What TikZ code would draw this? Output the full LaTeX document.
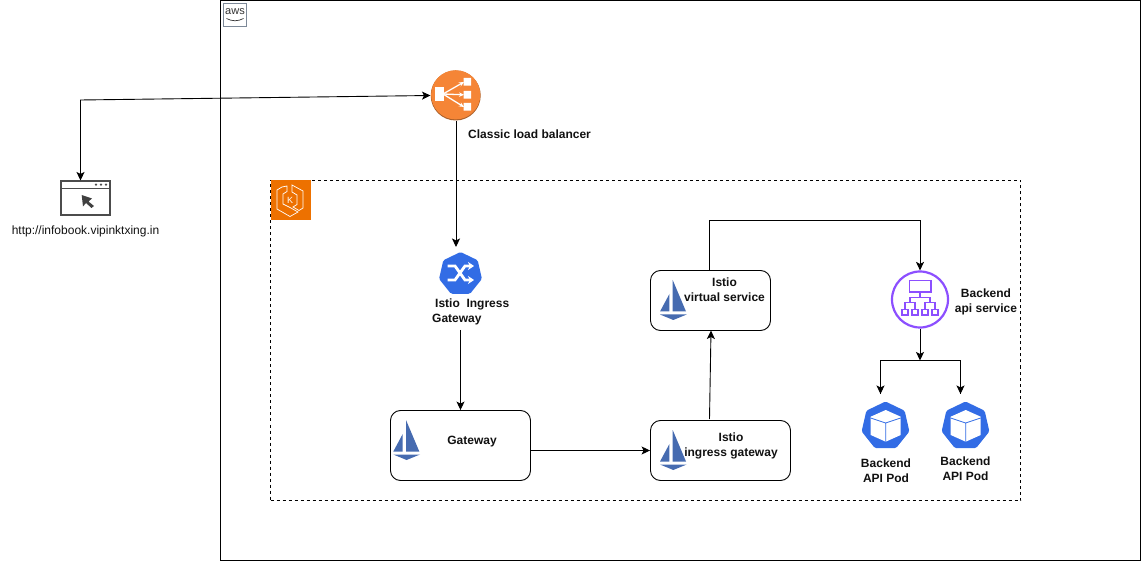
\documentclass[tikz,border=0pt]{standalone}
\usepackage{fontspec}
\setmainfont{Liberation Sans}
\usetikzlibrary{arrows.meta,shapes.geometric,calc}
\definecolor{kblue}{HTML}{326CE5}
\definecolor{sailblue}{HTML}{466BB0}
\definecolor{lborange}{HTML}{F58536}
\definecolor{lbrim}{HTML}{A85F2A}
\definecolor{eks}{HTML}{ED7100}
\definecolor{svc}{HTML}{8C4FFF}
\definecolor{awsgray}{HTML}{7D8998}
\definecolor{txt}{HTML}{111111}
\tikzset{
  link/.style={draw=black,line width=0.9pt,-{Stealth[length=8.5pt,width=8pt,inset=2pt]}},
  plain/.style={draw=black,line width=0.9pt},
  roundbox/.style={draw=black,line width=0.9pt,rounded corners=10pt,fill=white,inner sep=0pt},
  lbl/.style={font=\bfseries\fontsize{12}{15}\selectfont,text=txt,align=center,inner sep=0pt},
  hept/.style={regular polygon,regular polygon sides=7,fill=kblue,inner sep=0pt,rounded corners=1.5pt},
  sail/.pic={
    \fill[sailblue] (12.7,0)--(26,31.5)--(12.7,31.5)--cycle;
    \fill[sailblue] (9.4,14)--(9.4,31.5)--(0,31.5)--cycle;
    \fill[sailblue] (0,34.5)--(26.7,34.5)--(13.3,40)--cycle;
  },
  cube/.pic={
    \fill[white] (0,-13)--(15,-6.3)--(15,12)--(0,18.7)--(-15,12)--(-15,-6.3)--cycle;
    \draw[kblue,line width=0.8pt] (-15,-5)--(0,0)--(15,-5) (0,0)--(0,18.7);
  }
}
\begin{document}
\begin{tikzpicture}[x=1pt,y=-1pt]
\useasboundingbox (0,0) rectangle (1141,561);
% AWS frame
\node[draw=black,line width=0.9pt,minimum width=920pt,minimum height=560pt,inner sep=0pt] (aws) at (680.5,280.5) {};
\node[draw=awsgray,line width=1.6pt,fill=white,minimum size=23pt,inner sep=0pt] (awslogo) at (235,15) {};
\node[font=\fontsize{11}{11}\selectfont,text=black!80,inner sep=0pt] (awstext) at (235,12) {aws};
\draw[black!80,line width=0.7pt] (226.5,18.5) .. controls (232,21.5) and (238,21.5) .. (243.5,18.5);
% EKS cluster
\node[draw=black,line width=0.8pt,dash pattern=on 3pt off 3pt,minimum width=750pt,minimum height=320pt,inner sep=0pt] (cluster) at (645.5,340.5) {};
\node[fill=eks,minimum size=40pt,inner sep=0pt] (ekslogo) at (290.5,200.5) {};
\draw[white,line width=0.7pt] (282,187)--(277,190)--(277,209)--(290,216.5)--(298,212)--(290,207.5)--(283,204)--(283,194)--(287,191.5)--(287,186)--cycle;
\draw[white,line width=0.7pt] (292,185)--(303,191)--(303,208)--(299,210.5)--(293,207)--(297,204.5)--(297,195)--(292,192)--cycle;
\node[font=\fontsize{9}{9}\selectfont,text=white,inner sep=0pt] (ekstext) at (290,200.5) {K};
% Browser
\node[draw=black!70,line width=1.2pt,minimum width=49pt,minimum height=34pt,inner sep=0pt] (browser) at (85.5,198) {};
\draw[black!70,line width=1.1pt] (61,188.3)--(110,188.3);
\fill[black!70] (96,184.7) circle (1.3pt) (101,184.7) circle (1.3pt) (106,184.7) circle (1.3pt);
\fill[black!75] (81.7,195)--(92,198.5)--(88.5,201.5)--(94,206)--(91.5,208)--(86,203)--(83,206.5)--cycle;
\node[font=\fontsize{12}{15}\selectfont,text=txt,inner sep=0pt] (url) at (85.5,231) {http://infobook.vipinktxing.in};
% Load balancer
\node[circle,fill=lbrim,minimum size=50pt,inner sep=0pt] (lb) at (455.7,95.5) {};
\fill[lborange] (455.7,94.8) circle (24.6pt);
\fill[white] (434.5,87) rectangle (443.5,101.5);
\fill[white] (463.5,78) rectangle (471,85.7) (463.5,91) rectangle (471,98.7) (463.5,103) rectangle (471,110.7);
\draw[white,line width=1.3pt,-{Stealth[length=5pt,width=4.5pt]}] (443,94)--(464,82);
\draw[white,line width=1.3pt,-{Stealth[length=5pt,width=4.5pt]}] (443,94)--(464,94.8);
\draw[white,line width=1.3pt,-{Stealth[length=5pt,width=4.5pt]}] (443,94)--(464,107);
\node[lbl,anchor=west] (lblb) at (468,134) {Classic load balancer};
% Istio ingress gateway service icon
\node[hept,minimum size=44pt] (hep) at (460.5,274) {};
\draw[white,line width=2.8pt,-{Stealth[length=6pt,width=8pt]}] (447.7,280)--(455,280)--(465,266)--(474,266);
\draw[white,line width=2.8pt,-{Stealth[length=6pt,width=8pt]}] (447.7,266)--(455,266)--(465,280)--(474,280);
\node[lbl,align=left,anchor=north west] (lblhep) at (432,299) {\hspace{3pt}Istio\hspace{3.3pt} Ingress\\Gateway};
% Boxes
\node[roundbox,minimum width=140pt,minimum height=70pt] (gw) at (460.5,445.5) {};
\pic at (393.3,420) {sail};
\node[lbl] (lblgw) at (472,441.5) {Gateway};
\node[roundbox,minimum width=140pt,minimum height=60pt] (ig) at (720.5,450.5) {};
\pic at (660,430) {sail};
\node[lbl] (lblig) at (731,445.5) {Istio\\ingress gateway};
\node[roundbox,minimum width=120pt,minimum height=60pt] (vs) at (710.5,300.5) {};
\pic at (660,280) {sail};
\node[lbl] (lblvs) at (724.5,290) {Istio\\virtual service};
% Backend service
\node[circle,draw=svc,line width=2.2pt,fill=white,minimum size=56pt,inner sep=0pt] (svc) at (920,299.5) {};
\draw[svc,line width=1.5pt] (909.3,280.7) rectangle (931,292);
\draw[svc,line width=1.5pt] (920,292)--(920,297.3) (910,302.7)--(910,297.3)--(930,297.3)--(930,302.7)
  (905,309.3)--(905,302.7)--(915,302.7)--(915,309.3) (925,309.3)--(925,302.7)--(935,302.7)--(935,309.3);
\draw[svc,line width=1.5pt] (902,309.3) rectangle (908,315) (912,309.3) rectangle (918,315)
  (922,309.3) rectangle (928,315) (932,309.3) rectangle (938,315);
\node[lbl] (lblsvc) at (986,301.5) {Backend\\api service};
% Pods
\node[hept,minimum size=49pt] (poda) at (885.5,426) {};
\pic at (885.7,423) {cube};
\node[lbl] (lblpa) at (886,470.5) {Backend\\API Pod};
\node[hept,minimum size=49pt] (podb) at (965.5,426) {};
\pic at (965.7,423) {cube};
\node[lbl] (lblpb) at (965.5,468.5) {Backend\\API Pod};
% Connector end points
\coordinate (hepin) at (456,247);
\coordinate (lbout) at (456,121);
\coordinate (corner) at (80.5,100);
\coordinate (hepout) at (460.5,330);
\coordinate (igout) at (709.5,419);
\coordinate (vsin) at (711,330.5);
\coordinate (vstop) at (709.5,270.5);
\coordinate (up) at (709.5,220.5);
\coordinate (over) at (920,220.5);
\coordinate (split) at (920,360.5);
\coordinate (la) at (880.5,360.5);
\coordinate (lb2) at (960.5,360.5);
\coordinate (ta) at (880.5,394);
\coordinate (tb) at (960.5,394);
\coordinate (lbin) at (430.5,95.5);
\coordinate (brtop) at (80.5,180.5);
% Connectors
\draw[link,{Stealth[length=8.5pt,width=8pt,inset=2pt]}-{Stealth[length=8.5pt,width=8pt,inset=2pt]}] (brtop)--(corner)--(lbin);
\draw[link] (lbout)--(hepin);
\draw[link] (hepout)--(gw.north);
\draw[link] (gw.east |- ig.west)--(ig.west);
\draw[link] (igout)--(vsin);
\draw[link] (vstop)--(up)--(over)--(svc.north);
\draw[link] (svc.south)--(split);
\draw[plain] (ta)--(la)--(lb2)--(tb);
\draw[link] (la)--(ta);
\draw[link] (lb2)--(tb);
\end{tikzpicture}
\end{document}
